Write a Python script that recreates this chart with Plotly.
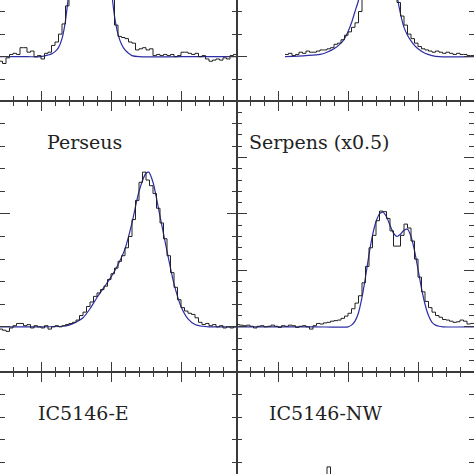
import plotly.graph_objects as go

# ---------------- data ----------------
CH_START = -6.0      # left edge of first channel (km/s-like units)
CH_WIDTH = 0.5

# top-left panel (peak clipped by the frame)
tl_start = -6.0
tl_data = [-0.04, -0.06, -0.01, 0.02, 0.03, 0.02, 0.08, 0.08, 0.04, 0.05,
           0.00, 0.01, -0.02, 0.03, 0.04, 0.10, 0.13, 0.20, 0.29, 0.45,
           0.70, 0.95, 1.20, 1.40, 1.55, 1.62, 1.65, 1.60, 1.48, 1.30,
           1.05, 0.80, 0.55, 0.28, 0.18, 0.17, 0.16, 0.13, 0.12, 0.06,
           0.07, 0.08, 0.06, 0.07, 0.01, 0.02, 0.01, 0.02, 0.01, 0.02,
           0.00, 0.01, 0.04, 0.04, 0.03, 0.02, 0.03, 0.00, 0.01, -0.02,
           -0.04, -0.03, -0.02, -0.03, -0.01, -0.02, 0.01, 0.02]
tl_fit_v = [-6, -2, 0, 1.0, 1.5, 2.0, 2.5, 3.0, 3.5, 4.0, 5.0, 6.0, 7.0, 8.0, 9.0,
            10.0, 10.5, 11.0, 11.5, 12.0, 12.5, 13.0, 14.0, 20.0, 28.0]
tl_fit_t = [0.0, 0.0, 0.0, 0.015, 0.025, 0.045, 0.08, 0.16, 0.32, 0.58, 1.10, 1.50, 1.65, 1.55, 1.20,
            0.62, 0.36, 0.20, 0.11, 0.06, 0.03, 0.01, 0.0, 0.0, 0.0]

# top-right panel
tr_start = 1.0
tr_data = [0.02, 0.03, 0.01, 0.02, 0.04, 0.03, 0.05, 0.04, 0.04, 0.05,
           0.06, 0.06, 0.07, 0.08, 0.11, 0.12, 0.15, 0.19, 0.22, 0.26,
           0.30, 0.40, 0.62, 0.90, 1.20, 1.45, 1.60, 1.65, 1.60, 1.40,
           1.10, 0.75, 0.48, 0.36, 0.28, 0.20, 0.16, 0.12, 0.09, 0.07,
           0.06, 0.05, 0.04, 0.05, 0.04, 0.03, 0.04, 0.03, 0.02, 0.03,
           0.02, 0.02, 0.01, 0.01]
tr_fit_v = [1.0, 4.0, 6.0, 7.0, 8.0, 9.0, 9.5, 10.0, 10.5, 11.0, 11.5, 12.0, 13.0, 14.0, 15.0,
            16.0, 16.5, 17.0, 17.5, 18.0, 18.5, 19.0, 19.5, 20.0, 21.0, 22.0, 23.0, 28.0]
tr_fit_t = [0.0, 0.01, 0.02, 0.04, 0.07, 0.12, 0.16, 0.22, 0.30, 0.40, 0.50, 0.66, 1.10, 1.50, 1.65,
            1.35, 0.95, 0.55, 0.38, 0.26, 0.19, 0.14, 0.10, 0.07, 0.03, 0.01, 0.0, 0.0]

# Perseus
pe_start = -6.0
pe_data = [-0.02, -0.03, -0.04, -0.01, 0.01, 0.03, 0.03, 0.01, 0.02, -0.01,
           0.01, 0.00, -0.01, 0.01, -0.02, 0.00, 0.01, 0.00, 0.01, 0.02,
           0.03, 0.04, 0.06, 0.10, 0.13, 0.18, 0.22, 0.27, 0.30, 0.33,
           0.36, 0.42, 0.47, 0.52, 0.58, 0.63, 0.70, 0.80, 0.95, 1.12,
           1.28, 1.37, 1.30, 1.25, 1.18, 1.05, 0.92, 0.78, 0.63, 0.48,
           0.35, 0.24, 0.17, 0.14, 0.12, 0.11, 0.08, 0.04, 0.02, 0.03,
           0.01, 0.02, 0.00, 0.01, -0.01, 0.00, -0.01, 0.00]
pe_fit_v = [-6, 0, 3, 4, 5, 6, 7, 8, 9, 10, 11, 12, 13, 14, 15, 15.4,
            16, 17, 18, 19, 20, 21, 22, 23, 24, 28]
pe_fit_t = [0.0, 0.0, 0.005, 0.015, 0.04, 0.08, 0.16, 0.26, 0.35, 0.44, 0.55, 0.69, 0.92, 1.20, 1.36, 1.37,
            1.28, 0.98, 0.67, 0.38, 0.18, 0.07, 0.02, 0.005, 0.0, 0.0]

# Serpens (x0.5)
se_start = -6.0
se_data = [0.04, 0.03, 0.02, 0.03, 0.01, -0.02, 0.01, 0.02, 0.00, 0.01,
           0.03, 0.01, -0.01, 0.02, 0.01, 0.03, 0.02, -0.01, 0.01, 0.02,
           0.00, -0.04, 0.02, 0.06, 0.05, 0.07, 0.08, 0.10, 0.11, 0.12,
           0.15, 0.19, 0.24, 0.32, 0.42, 0.55, 0.78, 1.07, 1.40, 1.62,
           1.88, 2.05, 2.04, 1.92, 1.70, 1.43, 1.43, 1.62, 1.82, 1.75,
           1.52, 1.20, 0.88, 0.62, 0.45, 0.34, 0.26, 0.20, 0.17, 0.13,
           0.12, 0.10, 0.08, 0.09, 0.12, 0.10, 0.05, 0.06]
se_fit_v = [-6, 5, 10.0, 10.5, 11.0, 11.5, 12.0, 12.5, 13.0, 13.5, 14.0, 14.5, 15.0, 15.5, 16.0,
            16.5, 17.0, 17.5, 18.0, 18.5, 19.0, 19.5, 20.0, 20.5, 21.0, 21.5, 22.0, 22.5,
            23.0, 23.5, 28.0]
se_fit_t = [0.0, 0.0, 0.0, 0.03, 0.10, 0.25, 0.52, 0.88, 1.28, 1.62, 1.86, 2.00, 2.03, 1.95, 1.80,
            1.66, 1.60, 1.64, 1.71, 1.73, 1.60, 1.35, 1.02, 0.68, 0.40, 0.20, 0.08, 0.03,
            0.01, 0.0, 0.0]

# IC5146-E (nothing reaches the visible window)
ie_start = -6.0
ie_data = [0.00, 0.01, -0.01, 0.02, 0.00, 0.01, 0.03, 0.08, 0.25, 0.55,
           0.80, 0.85, 0.70, 0.45, 0.20, 0.08, 0.03, 0.01, 0.00, 0.01]

# IC5146-NW (narrow spike just reaching the window)
in_start = 5.0
in_data = [0.02, 0.05, 0.35, 0.85, 1.16, 0.90, 0.40, 0.10, 0.03, 0.01]

LABELS = ["Perseus", "Serpens (x0.5)", "IC5146-E", "IC5146-NW"]

# ---------------- figure ----------------
W = H = 474
fig = go.Figure()

def px_y(top_px, bot_px):
    return [1 - bot_px / H, 1 - top_px / H]

panels = [
    # (xdomain, ydomain, yrange, data_start, data, fit_v, fit_t, row)
    ([0, 0.5], px_y(0, 101), [-0.392, 0.502], tl_start, tl_data, tl_fit_v, tl_fit_t, "top"),
    ([0.5, 1], px_y(0, 101), [-0.392, 0.502], tr_start, tr_data, tr_fit_v, tr_fit_t, "top"),
    ([0, 0.5], px_y(101, 372), [-0.4, 2.0], pe_start, pe_data, pe_fit_v, pe_fit_t, "mid"),
    ([0.5, 1], px_y(101, 372), [-0.8, 4.0], se_start, se_data, se_fit_v, se_fit_t, "mid"),
    ([0, 0.5], px_y(372, 474), [1.097, 2.0], ie_start, ie_data, None, None, "bot"),
    ([0.5, 1], px_y(372, 474), [1.097, 2.0], in_start, in_data, None, None, "bot"),
]

AX = "#3a3a3a"
for i, (xd, yd, yr, st, dat, fv, ft, row) in enumerate(panels, start=1):
    xs = [st + CH_WIDTH * k for k in range(len(dat) + 1)]
    ys = list(dat) + [dat[-1]]
    xa = "x" if i == 1 else f"x{i}"
    ya = "y" if i == 1 else f"y{i}"
    if fv is not None:
        fig.add_trace(go.Scatter(x=fv, y=ft, mode="lines", xaxis=xa, yaxis=ya,
                                 line=dict(color="rgb(45,45,165)", width=1.2,
                                           shape="spline", smoothing=0.7),
                                 hoverinfo="skip", showlegend=False))
    fig.add_trace(go.Scatter(x=xs, y=ys, mode="lines", xaxis=xa, yaxis=ya,
                             line=dict(color="#222222", width=1, shape="hv"),
                             hoverinfo="skip", showlegend=False))
    key = "" if i == 1 else str(i)
    if row == "mid":
        xside, xmirror = "bottom", "ticks"
    elif row == "top":
        xside, xmirror = "bottom", False
    else:
        xside, xmirror = "top", False
    fig.layout["xaxis" + key] = dict(
        domain=xd, anchor=ya, side=xside, range=[-5.857, 28.0], showgrid=False, zeroline=False,
        showline=True, linecolor=AX, linewidth=1, mirror=xmirror,
        ticks="inside", ticklen=10, tickwidth=1, tickcolor=AX, tick0=0, dtick=10,
        showticklabels=False,
        minor=dict(ticks="inside", ticklen=5, tickwidth=1, tickcolor=AX, tick0=0, dtick=2))
    fig.layout["yaxis" + key] = dict(
        domain=yd, anchor=xa, range=yr, showgrid=False, zeroline=False,
        showline=True, linecolor=AX, linewidth=1, mirror="ticks",
        ticks="inside", ticklen=10, tickwidth=1, tickcolor=AX, tick0=0, dtick=1,
        showticklabels=False,
        minor=dict(ticks="inside", ticklen=5, tickwidth=1, tickcolor=AX, tick0=0, dtick=0.2))

label_pos = [(45, 141.7), (247, 141.7), (36, 413), (267, 413)]
for txt, (lx, ly) in zip(LABELS, label_pos):
    fig.add_annotation(text=txt, xref="paper", yref="paper", x=lx / W, y=1 - ly / H,
                       xanchor="left", yanchor="middle", showarrow=False,
                       font=dict(family="DejaVu Serif", size=19, color="#222222"))

fig.update_layout(width=W, height=H, margin=dict(l=0, r=0, t=0, b=0),
                  paper_bgcolor="white", plot_bgcolor="white")
fig.write_html("out.html", config={"displayModeBar": False},
               post_script="document.body.style.margin='0';document.body.style.padding='0';")
